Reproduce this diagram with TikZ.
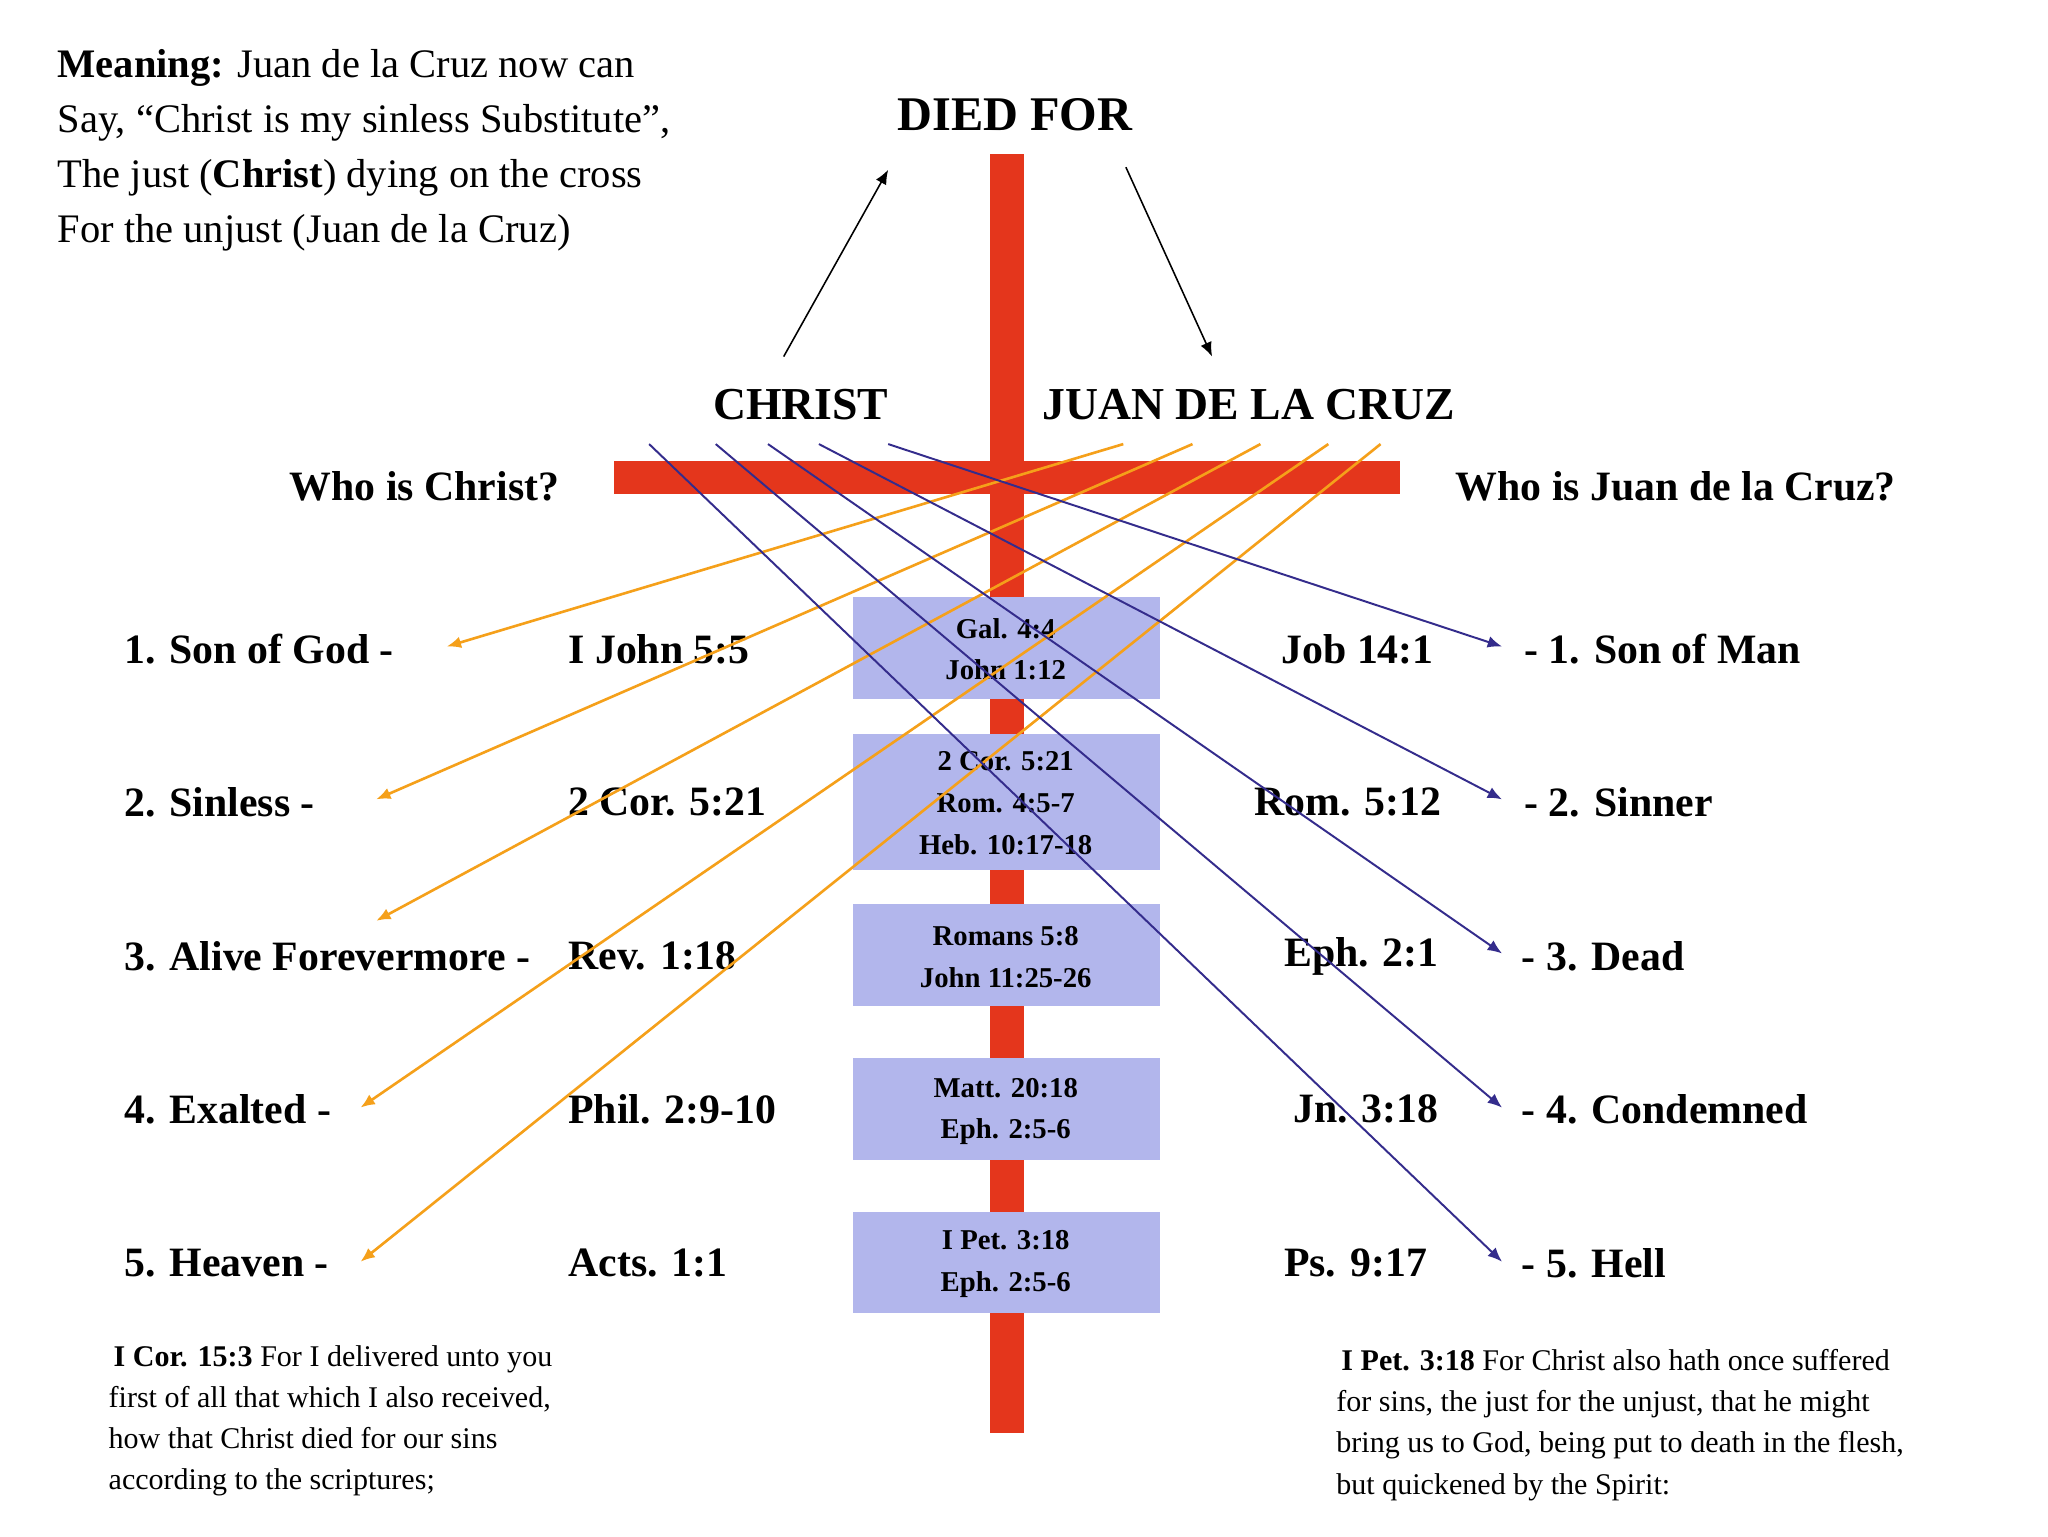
\documentclass[tikz,border=0pt]{standalone}
\usepackage{fontspec}
\setmainfont{Liberation Serif}
\definecolor{crossred}{RGB}{228,54,28}
\definecolor{boxblue}{RGB}{178,182,236}
\definecolor{arrorange}{RGB}{245,160,26}
\definecolor{arrblue}{RGB}{52,44,140}
\tikzset{
  big/.style={font=\fontsize{32}{40}\selectfont\bfseries, inner sep=0pt},
  mid/.style={font=\fontsize{31}{42}\selectfont, inner sep=0pt, align=left},
  small/.style={font=\fontsize{23}{31.5}\selectfont, inner sep=0pt, align=left},
  boxtxt/.style={font=\fontsize{22}{32}\selectfont\bfseries, align=center, inner sep=0pt},
  refbox/.style={fill=boxblue, draw=none},
  oarr/.style={draw=arrorange, line width=2pt, -{Latex[length=11pt,width=9pt]}},
  barr/.style={draw=arrblue, line width=1.5pt, -{Latex[length=11pt,width=9pt]}},
  karr/.style={draw=black, line width=1.2pt, -{Latex[length=11pt,width=9pt]}},
}
\usetikzlibrary{arrows.meta}
\begin{document}
\begin{tikzpicture}[x=1pt,y=-1pt]
\useasboundingbox[fill=white] (0,0) rectangle (1568,1176);
% cross
\fill[crossred] (758,118) rectangle (784,1097);
\fill[crossred] (470,353) rectangle (1072,378);
% boxes
\fill[refbox] (653,457) rectangle (888,535);
\fill[refbox] (653,562) rectangle (888,666);
\fill[refbox] (653,692) rectangle (888,770);
\fill[refbox] (653,810) rectangle (888,888);
\fill[refbox] (653,928) rectangle (888,1005);
\node[boxtxt] (b1) at (770,497) {Gal. 4:4\\John 1:12};
\node[boxtxt] (b2) at (770,615) {2 Cor. 5:21\\Rom. 4:5-7\\Heb. 10:17-18};
\node[boxtxt] (b3) at (770,733) {Romans 5:8\\John 11:25-26};
\node[boxtxt] (b4) at (770,851) {Matt. 20:18\\Eph. 2:5-6};
\node[boxtxt] (b5) at (770,968) {I Pet. 3:18\\Eph. 2:5-6};
% headings
\node[big, font=\fontsize{37}{40}\selectfont\bfseries] (died) at (777,88) {DIED FOR};
\node[big, font=\fontsize{35}{40}\selectfont\bfseries] (christ) at (613,310) {CHRIST};
\node[big, font=\fontsize{35}{40}\selectfont\bfseries] (juan) at (956,310) {JUAN DE LA CRUZ};
\node[big] (whoc) at (325,372) {Who is Christ?};
\node[big] (whoj) at (1283,372) {Who is Juan de la Cruz?};
% meaning
\node[mid, anchor=north west] (meaning) at (44,38) {\textbf{Meaning:} Juan de la Cruz now can\\Say, “Christ is my sinless Substitute”,\\The just (\textbf{Christ}) dying on the cross\\For the unjust (Juan de la Cruz)};
% left items
\node[big, anchor=west] (l1) at (95,497) {1. Son of God -};
\node[big, anchor=west] (l2) at (95,614) {2. Sinless -};
\node[big, anchor=west] (l3) at (95,732) {3. Alive Forevermore -};
\node[big, anchor=west] (l4) at (95,849) {4. Exalted -};
\node[big, anchor=west] (l5) at (95,967) {5. Heaven -};
\node[big, anchor=west] (lr1) at (435,497) {I John 5:5};
\node[big, anchor=west] (lr2) at (435,614) {2 Cor. 5:21};
\node[big, anchor=west] (lr3) at (435,732) {Rev. 1:18};
\node[big, anchor=west] (lr4) at (435,849) {Phil. 2:9-10};
\node[big, anchor=west] (lr5) at (435,967) {Acts. 1:1};
% right items
\node[big, anchor=west] (rr1) at (981,497) {Job 14:1};
\node[big, anchor=west] (rr2) at (960,614) {Rom. 5:12};
\node[big, anchor=west] (rr3) at (983,732) {Eph. 2:1};
\node[big, anchor=west] (rr4) at (990,849) {Jn. 3:18};
\node[big, anchor=west] (rr5) at (983,967) {Ps. 9:17};
\node[big, anchor=west] (r1) at (1167,497) {- 1. Son of Man};
\node[big, anchor=west] (r2) at (1167,614) {- 2. Sinner};
\node[big, anchor=west] (r3) at (1165,732) {- 3. Dead};
\node[big, anchor=west] (r4) at (1165,849) {- 4. Condemned};
\node[big, anchor=west] (r5) at (1165,967) {- 5. Hell};
% bottom texts
\node[small, anchor=north west] (q1) at (83,1030) {\,\textbf{I Cor. 15:3} For I delivered unto you\\first of all that which I also received,\\how that Christ died for our sins\\according to the scriptures;};
\node[small, anchor=north west] (q2) at (1023,1033) {\,\textbf{I Pet. 3:18} For Christ also hath once suffered\\for sins, the just for the unjust, that he might\\bring us to God, being put to death in the flesh,\\but quickened by the Spirit:};
% black arrows
\coordinate (ka1) at (600,273); \coordinate (ka2) at (680,130);
\coordinate (kb1) at (862,128); \coordinate (kb2) at (928,273);
\draw[karr] (ka1) -- (ka2);
\draw[karr] (kb1) -- (kb2);
% orange
\coordinate (o1) at (860,340); \coordinate (o2) at (913,340); \coordinate (o3) at (965,340);
\coordinate (o4) at (1017,340); \coordinate (o5) at (1057,340);
\coordinate (oe1) at (342,495); \coordinate (oe2) at (288,612); \coordinate (oe3) at (288,705);
\coordinate (oe4) at (276,848); \coordinate (oe5) at (276,966);
\draw[oarr] (o1) -- (oe1);
\draw[oarr] (o2) -- (oe2);
\draw[oarr] (o3) -- (oe3);
\draw[oarr] (o4) -- (oe4);
\draw[oarr] (o5) -- (oe5);
% blue
\coordinate (u1) at (680,340); \coordinate (u2) at (627,340); \coordinate (u3) at (588,340);
\coordinate (u4) at (548,340); \coordinate (u5) at (497,340);
\coordinate (ue1) at (1150,495); \coordinate (ue2) at (1150,612); \coordinate (ue3) at (1150,730);
\coordinate (ue4) at (1150,848); \coordinate (ue5) at (1150,966);
\draw[barr] (u1) -- (ue1);
\draw[barr] (u2) -- (ue2);
\draw[barr] (u3) -- (ue3);
\draw[barr] (u4) -- (ue4);
\draw[barr] (u5) -- (ue5);
\end{tikzpicture}
\end{document}
